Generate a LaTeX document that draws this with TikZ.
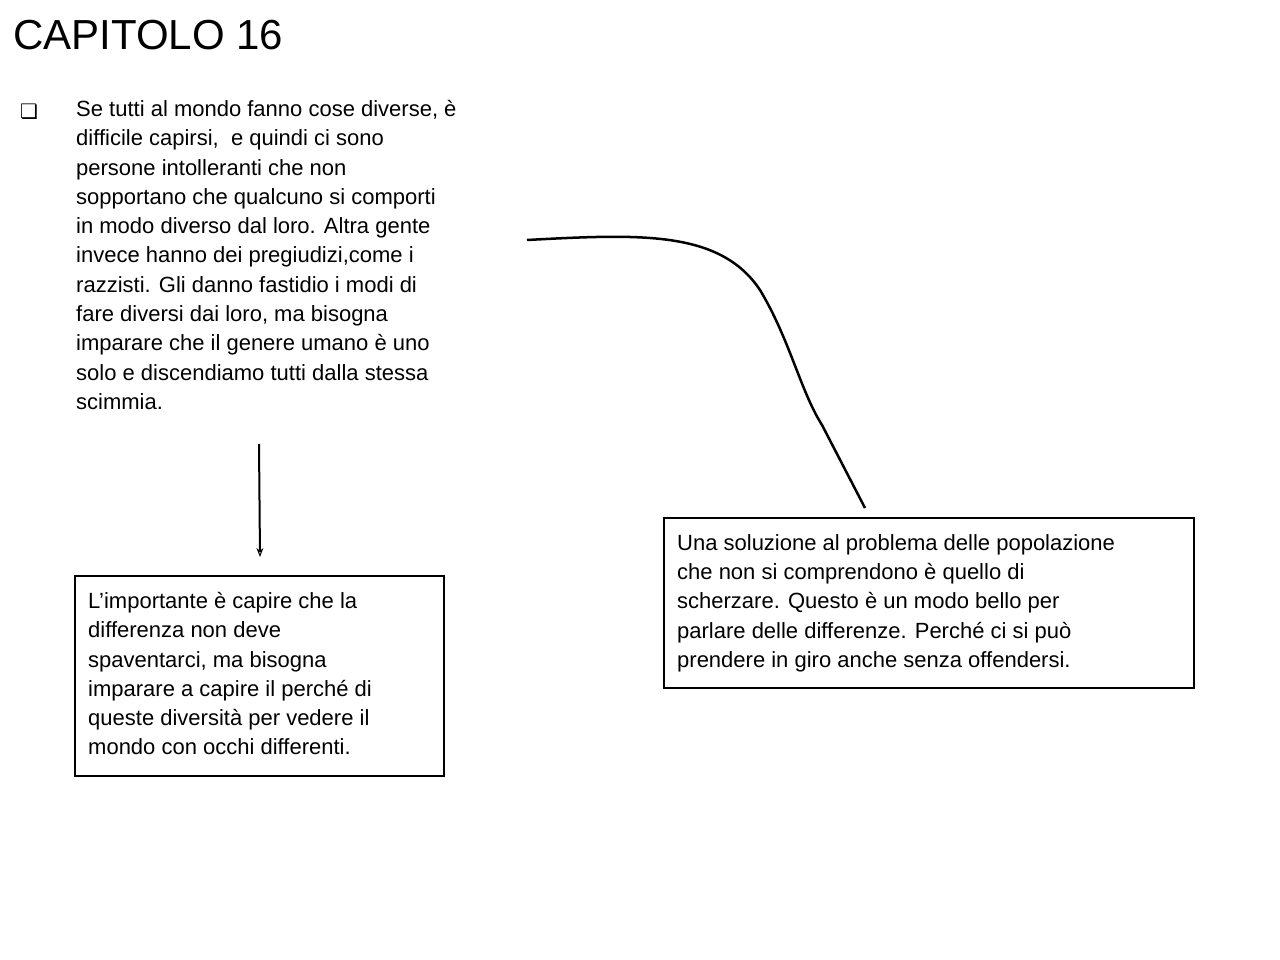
\documentclass[tikz,border=0pt]{standalone}
\usepackage{fontspec}
\setmainfont{Liberation Sans}
\newfontfamily\symf{DejaVu Sans}
\usetikzlibrary{arrows.meta}
\begin{document}
\begin{tikzpicture}[x=1pt,y=-1pt,
  txt/.style={anchor=north west,inner sep=0pt,align=left,font=\fontsize{22}{29.3}\selectfont},
  frame/.style={draw,line width=2pt}]
\useasboundingbox (0,0) rectangle (1280,960);
\node[anchor=north west,inner sep=0pt,font=\fontsize{42}{48}\selectfont] (title) at (13,20) {CAPITOLO 16};
\node[anchor=north west,inner sep=0pt,font=\symf\fontsize{20}{24}\selectfont] (bul) at (20,104) {❏};
\node[txt] (main) at (76,100) {Se tutti al mondo fanno cose diverse, è\\difficile capirsi,\ \ e quindi ci sono\\persone intolleranti che non\\sopportano che qualcuno si comporti\\in modo diverso dal loro. Altra gente\\invece hanno dei pregiudizi,come i\\razzisti. Gli danno fastidio i modi di\\fare diversi dai loro, ma bisogna\\imparare che il genere umano è uno\\solo e discendiamo tutti dalla stessa\\scimmia.};
\draw[frame] (75,576) rectangle (444,776);
\node[txt] (left) at (88,592) {L’importante è capire che la\\differenza non deve\\spaventarci, ma bisogna\\imparare a capire il perché di\\queste diversità per vedere il\\mondo con occhi differenti.};
\draw[frame] (664,518) rectangle (1194,688);
\node[txt] (right) at (677,534) {Una soluzione al problema delle popolazione\\che non si comprendono è quello di\\scherzare. Questo è un modo bello per\\parlare delle differenze. Perché ci si può\\prendere in giro anche senza offendersi.};
\coordinate (a1) at (259,444);
\coordinate (a2) at (260,557);
\draw[line width=2pt,-{Stealth[open,length=9pt,width=7pt,line width=1pt]}] (a1) -- (a2);
\coordinate (c1) at (527,240);
\coordinate (c2) at (865,508);
\draw[line width=2.5pt] (c1) .. controls (640,234) and (720,230) .. (760,290) .. controls (790,340) and (800,390) .. (822,425) -- (c2);
\end{tikzpicture}
\end{document}
